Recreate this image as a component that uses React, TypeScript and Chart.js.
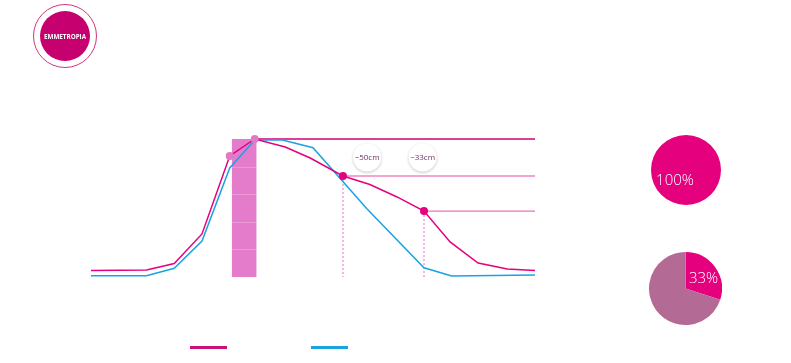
import React, { useEffect, useRef } from "react";
import { Chart, registerables } from "chart.js";

Chart.register(...registerables);

// ---- data (x on a 0..16 distance scale, y as % of peak acuity) ----
const magentaX = [0, 2, 3, 4, 5, 5.9, 7, 7.9, 9.08, 10.05, 11.03, 12, 12.94, 13.95, 15, 16];
const magentaY = [4.7, 5.1, 9.8, 31.2, 87.7, 100, 94.2, 86.2, 73.2, 67, 58, 47.8, 25.4, 10.1, 5.8, 4.7];
const blueX = [0, 2, 3, 4, 5, 5.9, 6.9, 8, 9.95, 12, 13, 16];
const blueY = [0.9, 0.9, 6.3, 26.1, 79, 99.3, 99.3, 93.7, 49.3, 6.7, 0.7, 1.4];

const bandRange = [5.07, 5.97];
const bandTop = 100;
const gridValues = [80, 60, 40, 20];

const peakDotsX = [5, 5.9];
const peakDotsY = [87.7, 100];
const distanceDotsX = [9.08, 12];
const distanceDotsY = [73.2, 47.8];
const distanceLabels = ["~50cm", "~33cm"];
const labelBubbleX = [9.95, 11.95];
const labelBubbleY = [86.6, 86.6];

const xMin = 0;
const xMax = 16;

const pieTopValues = [100];
const pieTopLabel = "100%";
const pieBottomValues = [30, 70];
const pieBottomLabel = "33%";

const MAGENTA = "#e5007e";
const BLUE = "#1aa3e2";

const pts = (xs: number[], ys: number[]) => xs.map((x, i) => ({ x, y: ys[i] }));

const bandGridPlugin = {
  id: "bandGrid",
  afterDatasetsDraw(chart: any) {
    const { ctx, scales } = chart;
    const x0 = scales.x.getPixelForValue(bandRange[0]);
    const x1 = scales.x.getPixelForValue(bandRange[1]);
    ctx.save();
    ctx.strokeStyle = "rgba(255,255,255,0.22)";
    ctx.lineWidth = 1;
    gridValues.forEach((v) => {
      const y = Math.round(scales.y.getPixelForValue(v)) + 0.5;
      ctx.beginPath();
      ctx.moveTo(x0, y);
      ctx.lineTo(x1, y);
      ctx.stroke();
    });
    ctx.restore();
  },
};

const bubblePlugin = {
  id: "bubbles",
  afterDraw(chart: any) {
    const { ctx, scales } = chart;
    ctx.save();
    distanceLabels.forEach((t, i) => {
      const cx = scales.x.getPixelForValue(labelBubbleX[i]);
      const cy = scales.y.getPixelForValue(labelBubbleY[i]);
      ctx.save();
      ctx.shadowColor = "rgba(0,0,0,0.22)";
      ctx.shadowBlur = 3;
      ctx.shadowOffsetY = 1;
      ctx.beginPath();
      ctx.arc(cx, cy, 14, 0, Math.PI * 2);
      ctx.fillStyle = "#ffffff";
      ctx.fill();
      ctx.restore();
      ctx.fillStyle = "#6e2f63";
      ctx.font = '8px "Open Sans", sans-serif';
      ctx.textAlign = "center";
      ctx.textBaseline = "middle";
      ctx.fillText(t, cx, cy);
    });
    ctx.restore();
  },
};

function makePieLabel(text: string, dx: number, dy: number) {
  return {
    id: "pieLabel",
    afterDraw(chart: any) {
      const { ctx, chartArea } = chart;
      const cx = (chartArea.left + chartArea.right) / 2;
      const cy = (chartArea.top + chartArea.bottom) / 2;
      ctx.save();
      ctx.fillStyle = "#ffffff";
      ctx.font = '300 15px "Open Sans", sans-serif';
      ctx.textAlign = "center";
      ctx.textBaseline = "middle";
      ctx.fillText(text, cx + dx, cy + dy);
      ctx.restore();
    },
  };
}

function MainChart() {
  const ref = useRef<HTMLCanvasElement>(null);
  useEffect(() => {
    const chart = new Chart(ref.current!, {
      type: "line",
      data: {
        datasets: [
          {
            label: "peakDots",
            data: pts(peakDotsX, peakDotsY),
            showLine: false,
            pointRadius: 4,
            pointBackgroundColor: "#e07ac6",
            pointBorderWidth: 0,
            order: 1,
            clip: false,
          } as any,
          {
            label: "distDots",
            data: pts(distanceDotsX, distanceDotsY),
            showLine: false,
            pointRadius: 4,
            pointBackgroundColor: MAGENTA,
            pointBorderWidth: 0,
            order: 1,
            clip: false,
          },
          {
            label: "magenta",
            data: pts(magentaX, magentaY),
            borderColor: MAGENTA,
            borderWidth: 1.5,
            pointRadius: 0,
            tension: 0,
            order: 2,
            clip: false,
          },
          {
            label: "blue",
            data: pts(blueX, blueY),
            borderColor: BLUE,
            borderWidth: 1.5,
            pointRadius: 0,
            tension: 0,
            order: 3,
            clip: false,
          },
          {
            label: "top",
            data: pts([peakDotsX[1], xMax], [bandTop, bandTop]),
            borderColor: "#cf0070",
            borderWidth: 1.5,
            pointRadius: 0,
            order: 4,
            clip: false,
          },
          {
            label: "lvl50",
            data: pts([distanceDotsX[0], xMax], [distanceDotsY[0], distanceDotsY[0]]),
            borderColor: "#f086c2",
            borderWidth: 1.5,
            pointRadius: 0,
            order: 4,
          },
          {
            label: "lvl33",
            data: pts([distanceDotsX[1], xMax], [distanceDotsY[1], distanceDotsY[1]]),
            borderColor: "#ee72b6",
            borderWidth: 1.2,
            pointRadius: 0,
            order: 4,
          },
          {
            label: "v50",
            data: pts([distanceDotsX[0], distanceDotsX[0]], [distanceDotsY[0], 0]),
            borderColor: "#e985c4",
            borderWidth: 1.2,
            borderDash: [2, 2],
            pointRadius: 0,
            order: 4,
          },
          {
            label: "v33",
            data: pts([distanceDotsX[1], distanceDotsX[1]], [distanceDotsY[1], 0]),
            borderColor: "#e985c4",
            borderWidth: 1.2,
            borderDash: [2, 2],
            pointRadius: 0,
            order: 4,
          },
          {
            label: "band",
            data: pts(bandRange, [bandTop, bandTop]),
            borderWidth: 0,
            pointRadius: 0,
            fill: "origin",
            backgroundColor: "#e47ccb",
            order: 10,
          },
        ],
      },
      options: {
        animation: false,
        responsive: false,
        layout: { padding: { left: 91, right: 256, top: 139, bottom: 86 } },
        plugins: { legend: { display: false }, tooltip: { enabled: false } },
        scales: {
          x: { type: "linear", min: xMin, max: xMax, display: false },
          y: { type: "linear", min: 0, max: 100, display: false },
        },
      },
      plugins: [bandGridPlugin, bubblePlugin],
    });
    return () => chart.destroy();
  }, []);
  return (
    <canvas
      ref={ref}
      width={791}
      height={363}
      style={{ position: "absolute", left: 0, top: 0, width: 791, height: 363 }}
    />
  );
}

function Pie({ values, colors, label, dx, dy, left, top, size }: any) {
  const ref = useRef<HTMLCanvasElement>(null);
  useEffect(() => {
    const chart = new Chart(ref.current!, {
      type: "pie",
      data: {
        labels: values.map((_: any, i: number) => String(i)),
        datasets: [{ data: values, backgroundColor: colors, borderWidth: 0 }],
      },
      options: {
        animation: false,
        responsive: false,
        plugins: { legend: { display: false }, tooltip: { enabled: false } },
      },
      plugins: [makePieLabel(label, dx, dy)],
    });
    return () => chart.destroy();
  }, []);
  return (
    <canvas
      ref={ref}
      width={size}
      height={size}
      style={{ position: "absolute", left, top, width: size, height: size }}
    />
  );
}

export default function App() {
  return (
    <div
      style={{
        position: "fixed",
        left: 0,
        top: 0,
        width: 791,
        height: 363,
        background: "#ffffff",
        overflow: "hidden",
        fontFamily: '"Open Sans", sans-serif',
      }}
    >
      <MainChart />
      {/* badge */}
      <div
        style={{
          position: "absolute",
          left: 33,
          top: 4,
          width: 64,
          height: 64,
          borderRadius: "50%",
          border: "1px solid #d0347f",
          boxSizing: "border-box",
        }}
      />
      <div
        style={{
          position: "absolute",
          left: 40,
          top: 11,
          width: 50,
          height: 50,
          borderRadius: "50%",
          background: "#c6006e",
          color: "#ffffff",
          fontSize: 6.3,
          fontWeight: 700,
          display: "flex",
          alignItems: "center",
          justifyContent: "center",
          letterSpacing: 0,
        }}
      >
        EMMETROPIA
      </div>
      <Pie values={pieTopValues} colors={[MAGENTA]} label={pieTopLabel} dx={-11} dy={11} left={651} top={135} size={70} />
      <Pie
        values={pieBottomValues}
        colors={[MAGENTA, "#b36a95"]}
        label={pieBottomLabel}
        dx={18}
        dy={-10}
        left={649}
        top={252}
        size={73}
      />
      {/* legend */}
      <div style={{ position: "absolute", left: 190, top: 346, width: 37, height: 3, background: "#c8127a" }} />
      <div style={{ position: "absolute", left: 311, top: 346, width: 37, height: 3, background: "#1aa3e2" }} />
    </div>
  );
}
